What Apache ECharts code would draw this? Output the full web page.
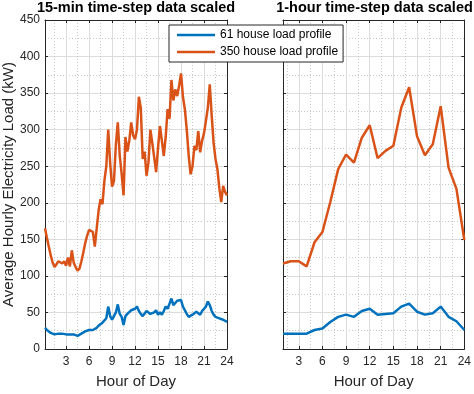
<!DOCTYPE html>
<html><head><meta charset="utf-8">
<script src="https://cdn.jsdelivr.net/npm/echarts@6/dist/echarts.min.js"></script>
<style>html,body{margin:0;padding:0;background:#fff}#c{width:474px;height:394px}</style>
</head><body><div id="c"></div>
<script>
const seriesNames = ['61 house load profile', '350 house load profile'];
const titles = ['15-min time-step data scaled', '1-hour time-step data scaled'];
const xAxisName = 'Hour of Day';
const yAxisName = 'Average Hourly Electricity Load (kW)';
const xTickLabels = [3, 6, 9, 12, 15, 18, 21, 24];
const yTickLabels = [0, 50, 100, 150, 200, 250, 300, 350, 400, 450];

// 15-minute steps (hour 0.25 ... 24)
const house61_15min = [
  29, 26, 24, 22,  21, 20, 20, 21,  20, 21, 20, 20,  21, 20, 22, 20,
  19, 18, 19, 21,  22, 24, 25, 26,  27, 26, 27, 29,  32, 34, 36, 38,
  42, 58, 45, 40,  45, 50, 61, 48,  44, 33, 45, 48,  50, 53, 51, 55,
  58, 52, 48, 45,  47, 52, 53, 48,  46, 50, 53, 47,  50, 47, 52, 58,
  55, 62, 69, 60,  62, 66, 64, 67,  58, 53, 48, 44,  45, 47, 49, 51,
  49, 47, 52, 55,  58, 65, 60, 52,  47, 44, 42, 42,  41, 40, 38, 37
];
const house350_15min = [
  165, 152, 140, 128,  118, 112, 116, 120,  122, 117, 120, 114,  125, 113, 135, 118,
  112, 107, 110, 120,  132, 145, 155, 163,  165, 160, 140, 165,  190, 205, 198, 230,
  250, 300, 255, 222,  230, 280, 310, 265,  240, 210, 290, 270,  285, 310, 292, 287,
  300, 345, 330, 260,  270, 237, 255, 300,  282, 262, 242, 275,  305, 285, 264, 290,
  328, 315, 368, 340,  355, 346, 360, 377,  345, 328, 300, 265,  239, 250, 278, 272,
  298, 269, 285, 295,  312, 330, 362, 320,  282, 260, 246, 220,  201, 223, 215, 210
];
const STEP15 = 0.25;

// 1-hour steps
const hours1h = [1, 2, 3, 4, 5, 6, 7, 8, 9, 10, 11, 12, 13, 14, 15, 16, 17, 18, 19, 20, 21, 22, 23, 24];
const house61_1h = [21, 21, 21, 21, 26, 28, 37, 44, 47, 44, 52, 55, 47, 48, 49, 58, 62, 51, 47, 49, 58, 44, 38, 26];
const house350_1h = [117, 120, 120, 113, 146, 160, 201, 246, 266, 255, 289, 306, 261, 271, 278, 330, 358, 291, 265, 280, 332, 248, 219, 149];

const FONT = '"Liberation Sans", Arial, Helvetica, sans-serif';
const TXT = '#262626';
const BLUE = '#0072BD';
const RED = '#D95319';

function xAx(gridIndex, min, pos) {
  const main = pos === 'bottom';
  return {
    type: 'value', gridIndex, min, max: 24, minInterval: 3, maxInterval: 3, position: pos,
    axisLine: { show: true, onZero: false, lineStyle: { color: TXT, width: 1 } },
    axisTick: { show: true, inside: true, length: 3, lineStyle: { color: TXT } },
    axisLabel: main ? { show: true, margin: 7, color: TXT, fontSize: 12, fontFamily: FONT,
      formatter: v => xTickLabels.includes(v) ? String(v) : '' } : { show: false },
    splitLine: { show: main, lineStyle: { color: '#dcdcdc', width: 1 } },
    minorTick: { show: false, splitNumber: 2 },
    minorSplitLine: { show: main, lineStyle: { color: '#c8c8c8', width: 1, type: [1, 2] } },
    name: main ? xAxisName : '', nameLocation: 'middle', nameGap: 25,
    nameTextStyle: { fontSize: 15, color: TXT, fontFamily: FONT }
  };
}
function yAx(gridIndex, pos, withLabels) {
  const main = pos === 'left';
  return {
    type: 'value', gridIndex, min: 0, max: 450, interval: 50, position: pos,
    axisLine: { show: true, onZero: false, lineStyle: { color: TXT, width: 1 } },
    axisTick: { show: true, inside: true, length: 3, lineStyle: { color: TXT } },
    axisLabel: withLabels ? { show: true, margin: 5, color: TXT, fontSize: 12, fontFamily: FONT,
      formatter: v => yTickLabels.includes(v) ? String(v) : '' } : { show: false },
    splitLine: { show: main, lineStyle: { color: '#dcdcdc', width: 1 } },
    minorTick: { show: false, splitNumber: 2 },
    minorSplitLine: { show: main, lineStyle: { color: '#c8c8c8', width: 1, type: [1, 2] } },
    name: withLabels ? yAxisName : '', nameLocation: 'middle', nameGap: 28,
    nameTextStyle: { fontSize: 15, color: TXT, fontFamily: FONT }
  };
}

const times15 = house61_15min.map((_, i) => (i + 1) * STEP15);

function line(name, xi, yi, xs, ys, color) {
  return {
    type: 'line', name, xAxisIndex: xi, yAxisIndex: yi,
    data: xs.map((x, i) => [x, ys[i]]),
    symbol: 'none', showSymbol: false,
    lineStyle: { width: 2.5, color }, itemStyle: { color },
    animation: false
  };
}

const chart = echarts.init(document.getElementById('c'), null, { renderer: 'canvas' });
chart.setOption({
  animation: false,
  backgroundColor: '#fff',
  title: [
    { text: titles[0], left: 136, textAlign: 'center', top: 0, padding: 0,
      textStyle: { fontSize: 14.5, fontWeight: 'bold', color: '#000', fontFamily: FONT } },
    { text: titles[1], left: 374.5, textAlign: 'center', top: 0, padding: 0,
      textStyle: { fontSize: 14.5, fontWeight: 'bold', color: '#000', fontFamily: FONT } }
  ],
  legend: {
    orient: 'vertical', left: 169, top: 25, padding: [3, 5, 3, 8], itemGap: 3,
    itemWidth: 38, itemHeight: 2.5, icon: 'rect',
    backgroundColor: '#fff', borderColor: TXT, borderWidth: 1,
    textStyle: { fontSize: 12, lineHeight: 14, color: '#000', fontFamily: FONT },
    data: seriesNames
  },
  grid: [
    { left: 45, top: 20, width: 182, height: 331, show: false },
    { left: 283, top: 20, width: 183, height: 331, show: false }
  ],
  xAxis: [xAx(0, STEP15, 'bottom'), xAx(0, STEP15, 'top'), xAx(1, hours1h[0], 'bottom'), xAx(1, hours1h[0], 'top')],
  yAxis: [yAx(0, 'left', true), yAx(0, 'right', false), yAx(1, 'left', false), yAx(1, 'right', false)],
  series: [
    line(seriesNames[0], 0, 0, times15, house61_15min, BLUE),
    line(seriesNames[1], 0, 0, times15, house350_15min, RED),
    line(seriesNames[0], 2, 2, hours1h, house61_1h, BLUE),
    line(seriesNames[1], 2, 2, hours1h, house350_1h, RED)
  ]
});
</script></body></html>
